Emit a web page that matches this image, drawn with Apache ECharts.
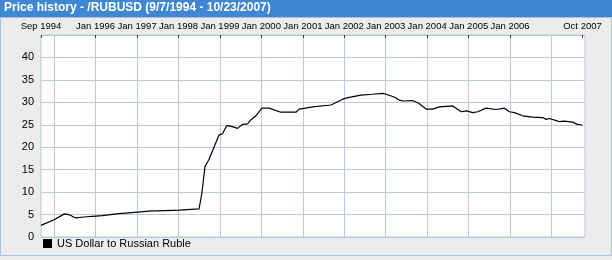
<!DOCTYPE html>
<html><head><meta charset="utf-8">
<script src="https://cdn.jsdelivr.net/npm/echarts@6/dist/echarts.min.js"></script>
<style>html,body{margin:0;padding:0;background:#ececec}#c{width:612px;height:260px}</style>
</head><body><div id="c"></div>
<script>
const titleText = 'Price history - /RUBUSD (9/7/1994 - 10/23/2007)';
const seriesName = 'US Dollar to Russian Ruble';
const dates = ['1994-09-07','1995-01-01','1995-04-01','1995-05-10','1995-07-10','1995-09-20','1996-01-01','1996-03-01','1996-07-25','1997-01-05','1997-04-15','1997-11-10','1998-01-05','1998-07-01','1998-07-26','1998-08-22','1998-09-25','1998-12-24','1999-01-23','1999-03-01','1999-04-20','1999-06-05','1999-07-20','1999-09-01','1999-10-01','1999-11-14','2000-01-05','2000-03-10','2000-06-20','2000-11-01','2000-11-30','2001-03-28','2001-09-06','2001-12-17','2002-02-14','2002-05-27','2002-09-07','2002-12-06','2003-01-05','2003-03-15','2003-05-01','2003-06-05','2003-08-25','2003-10-18','2003-12-23','2004-02-18','2004-04-18','2004-08-14','2004-10-27','2004-12-15','2005-02-06','2005-03-22','2005-06-03','2005-08-30','2005-11-12','2005-12-26','2006-02-08','2006-04-22','2006-07-19','2006-10-16','2006-11-14','2006-12-13','2007-03-11','2007-04-23','2007-07-05','2007-08-18','2007-09-16','2007-10-01'];
const values = [2.6,3.85,5.15,5.0,4.25,4.45,4.65,4.75,5.2,5.55,5.75,5.95,6.0,6.25,9.8,15.7,17.2,22.7,23.0,24.8,24.6,24.2,25.1,25.2,26.1,27.0,28.7,28.7,27.8,27.8,28.5,29.0,29.4,30.7,31.1,31.6,31.8,32.0,31.8,31.2,30.5,30.3,30.4,29.8,28.5,28.5,29.0,29.2,27.9,28.1,27.7,27.9,28.7,28.4,28.7,27.9,27.7,27.0,26.7,26.6,26.2,26.4,25.7,25.8,25.6,25.1,25.0,24.9];
const xStart = '1994-09-07', xEnd = '2007-10-23';
const labelDates = ['1994-09-07','1996-01-01','1997-01-01','1998-01-01','1999-01-01','2000-01-01','2001-01-01','2002-01-01','2003-01-01','2004-01-01','2005-01-01','2006-01-01','2007-10-01'];
const gridDates = ['1995-01-01','1996-01-01','1997-01-01','1998-01-01','1999-01-01','2000-01-01','2001-01-01','2002-01-01','2003-01-01','2004-01-01','2005-01-01','2006-01-01','2007-01-01'];
const yMin = 0, yMax = 45, yStep = 5;

const months = ['Jan','Feb','Mar','Apr','May','Jun','Jul','Aug','Sep','Oct','Nov','Dec'];
function ts(s){const p=s.split('-').map(Number);return new Date(p[0],p[1]-1,p[2]).getTime();}
function fmt(v){const d=new Date(v+43200000);return months[d.getMonth()]+' '+d.getFullYear();}

const gridColor = '#b8c8de';
const font = 'Liberation Sans';
const chart = echarts.init(document.getElementById('c'), null, {renderer:'canvas'});
chart.setOption({
  backgroundColor: '#ececec',
  animation: false,
  graphic: [
    {type:'rect', shape:{x:0.5,y:17.5,width:611,height:238}, style:{fill:'none',stroke:'#a9c0dd',lineWidth:1}, z:-1},
    {type:'rect', shape:{x:0,y:0,width:612,height:17}, style:{fill:'#3f87d3'}},
    {type:'text', left:4, top:2, style:{text:titleText, fill:'#fff', font:'bold 12px "Liberation Sans"'}}
  ],
  grid: {left:41, top:35, right:27, bottom:23, show:true, backgroundColor:'#fff', borderColor:gridColor, borderWidth:1, containLabel:false},
  legend: {left:41, top:238, itemWidth:9, itemHeight:9, itemGap:4, icon:'rect', padding:[0,2],
    textStyle:{fontFamily:font, fontSize:11, color:'#000'}, data:[{name:seriesName, itemStyle:{color:'#000'}}]},
  xAxis: [
    {type:'value', position:'top', min:ts(xStart), max:ts(xEnd),
      axisLine:{show:false, onZero:false}, splitLine:{show:false},
      axisTick:{show:true, inside:true, length:3, lineStyle:{color:'#333'}, customValues: labelDates.map(ts)},
      axisLabel:{show:true, margin:4, fontFamily:font, fontSize:9.5, color:'#000', customValues: labelDates.map(ts), formatter: v=>fmt(v), hideOverlap:false, showMinLabel:true, showMaxLabel:true}},
    {type:'value', position:'bottom', min:ts(xStart), max:ts(xEnd),
      axisLine:{show:false, onZero:false}, axisLabel:{show:false},
      axisTick:{show:false, customValues: gridDates.map(ts)},
      splitLine:{show:true, lineStyle:{color:gridColor, width:1}}}
  ],
  yAxis: {type:'value', min:yMin, max:yMax, interval:yStep,
    axisLine:{show:false, onZero:false}, axisTick:{show:false},
    splitLine:{show:true, lineStyle:{color:gridColor, width:1}},
    axisLabel:{margin:7, fontFamily:font, fontSize:11, color:'#000', formatter: v=> v>=yMax ? '' : String(v)}},
  series: [{name:seriesName, type:'line', xAxisIndex:0, showSymbol:false, symbol:'none',
    lineStyle:{color:'#000', width:1.2}, itemStyle:{color:'#000'},
    data: dates.map((d,i)=>[ts(d), values[i]])}]
});
</script></body></html>
